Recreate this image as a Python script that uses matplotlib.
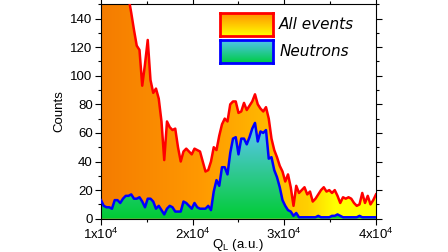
import numpy as np
import matplotlib
matplotlib.use("Agg")
import matplotlib.pyplot as plt
from matplotlib.colors import LinearSegmentedColormap
from matplotlib.ticker import FixedLocator, MultipleLocator

plt.rcParams["font.family"] = ["Liberation Sans", "DejaVu Sans"]
plt.rcParams["mathtext.default"] = "regular"

# ---- DATA ----
all_events = [260, 250, 240, 228, 218, 208, 196, 186, 176, 166,
              155, 144, 132, 121, 118, 93, 108, 125, 97, 88,
              91, 84, 68, 41, 68, 64, 62, 63, 50, 40,
              47, 49, 47, 45, 49, 48, 47, 40, 33, 34,
              40, 50, 48, 58, 66, 70, 68, 80, 82, 82,
              74, 75, 81, 76, 79, 82, 87, 80, 77, 75,
              78, 70, 56, 48, 43, 37, 33, 26, 31, 22,
              9, 23, 18, 20, 22, 17, 19, 12, 14, 17,
              20, 22, 19, 20, 18, 20, 16, 11, 15, 14,
              15, 14, 11, 9, 10, 18, 11, 16, 10, 13, 17]
neutrons = [13, 9, 8, 8, 7, 13, 13, 11, 14, 16,
            16, 17, 14, 14, 15, 12, 8, 14, 14, 12,
            7, 9, 6, 3, 7, 9, 8, 5, 5, 5,
            12, 11, 9, 7, 11, 8, 7, 7, 7, 9,
            6, 19, 27, 23, 36, 36, 31, 46, 56, 57,
            45, 56, 56, 52, 57, 63, 67, 54, 61, 60,
            62, 42, 43, 34, 29, 22, 13, 9, 6, 5,
            2, 4, 1, 1, 1, 1, 1, 1, 1, 2,
            1, 1, 1, 1, 2, 2, 3, 2, 1, 1,
            1, 1, 1, 1, 2, 1, 1, 1, 1, 1, 1]
q = np.linspace(1e4, 4e4, len(all_events))
x_ticks = [1e4, 2e4, 3e4, 4e4]
x_labels = [r"1x10$^{4}$", r"2x10$^{4}$", r"3x10$^{4}$", r"4x10$^{4}$"]
legend_labels = ["All events", "Neutrons"]

# gradients
all_cmap = LinearSegmentedColormap.from_list(
    "all", [(0.0, "#F57C00"), (0.35, "#FF9800"), (0.6, "#FFB800"),
            (0.75, "#FFD000"), (0.85, "#FFFF00"), (1.0, "#FFFF00")])
neu_cmap = LinearSegmentedColormap.from_list(
    "neu", [(0.0, "#00CC33"), (0.45, "#2CC98A"), (1.0, "#5CC6F8")])
all_leg_cmap = LinearSegmentedColormap.from_list("allleg", ["#FFFF00", "#FF8C00"])
neu_leg_cmap = LinearSegmentedColormap.from_list("neuleg", ["#00CC44", "#55C4F8"])


def gradient_fill(ax, x, y, cmap, horizontal, top, z):
    poly = ax.fill_between(x, 0, y, facecolor="none", edgecolor="none")
    grad = np.linspace(0, 1, 256)
    grad = grad.reshape(1, -1) if horizontal else grad.reshape(-1, 1)
    im = ax.imshow(grad, cmap=cmap, aspect="auto", origin="lower",
                   extent=[x[0], x[-1], 0, top], zorder=z, interpolation="bilinear")
    im.set_clip_path(poly.get_paths()[0], transform=ax.transData)


fig = plt.figure(figsize=(4.48, 2.52), dpi=100)
ax = fig.add_axes([0.2254, 0.1321, 0.6139, 0.8512])

gradient_fill(ax, q, all_events, all_cmap, True, max(all_events), 1)
gradient_fill(ax, q, neutrons, neu_cmap, False, 66, 2)
ax.plot(q, all_events, color="#FF0000", lw=1.8, zorder=3)
ax.plot(q, neutrons, color="#0000FF", lw=1.8, zorder=4)

ax.set_xlim(1e4, 4e4)
ax.set_ylim(0, 150)
ax.xaxis.set_major_locator(FixedLocator(x_ticks))
ax.set_xticklabels(x_labels)
ax.xaxis.set_minor_locator(MultipleLocator(5000))
ax.yaxis.set_major_locator(MultipleLocator(20))
ax.yaxis.set_minor_locator(MultipleLocator(10))
ax.set_yticks(np.arange(0, 141, 20))
ax.tick_params(which="both", direction="out", top=True, right=True,
               labelsize=9.5, width=0.8, pad=2)
ax.tick_params(which="major", length=4)
ax.tick_params(which="minor", length=2.5)
for s in ax.spines.values():
    s.set_linewidth(0.8)

ax.set_ylabel("Counts", fontsize=9.5)
ax.yaxis.set_label_coords(-0.128, 0.5)
ax.set_xlabel(r"Q$_{L}$ (a.u.)", fontsize=9.5, va="top")
ax.xaxis.set_label_coords(0.498, -0.085)

# legend built by hand with gradient swatches
swatches = [(all_leg_cmap, "#FF0000", 0.852), (neu_leg_cmap, "#0000FF", 0.7245)]
for (cmap, edge, y0), label in zip(swatches, legend_labels):
    sw = fig.add_axes([0.2254 + 0.433 * 0.6139, 0.1321 + y0 * 0.8512,
                       0.192 * 0.6139, 0.108 * 0.8512])
    sw.imshow(np.linspace(0, 1, 64).reshape(-1, 1), cmap=cmap, aspect="auto",
              origin="lower", interpolation="bilinear")
    sw.set_xticks([])
    sw.set_yticks([])
    for s in sw.spines.values():
        s.set_color(edge)
        s.set_linewidth(2)
    ax.text(0.648, y0 + 0.054, label, transform=ax.transAxes, fontsize=11,
            style="italic", family="DejaVu Sans", va="center", ha="left")

fig.savefig("out.png", dpi=100)
